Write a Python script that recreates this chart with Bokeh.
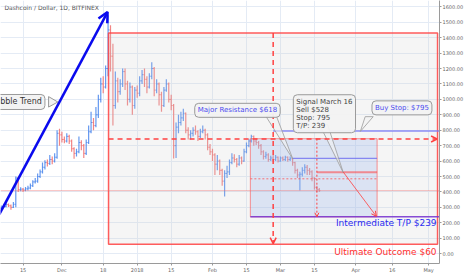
import pandas as pd
from bokeh.plotting import figure
from bokeh.models import (Label, Arrow, OpenHead, FixedTicker, ColumnDataSource,
                          Span, PrintfTickFormatter)
from bokeh.embed import file_html
from bokeh.resources import INLINE

# ---------------- data ----------------
START = "2017-11-05"
END = "2018-03-17"
ORIGIN = "2017-11-15"   # day 0 of the x scale

first_open = 290
close_nov = [295, 300, 305, 318, 310, 300, 320, 490, 415, 418, 412, 420, 425, 440, 465,
             470, 500, 530, 560, 590, 585, 610, 600, 625, 780, 770]
high_nov = [305, 312, 318, 330, 325, 318, 335, 500, 495, 430, 425, 432, 440, 455, 475,
            490, 520, 545, 590, 605, 610, 640, 630, 650, 800, 810]
low_nov = [282, 290, 296, 300, 302, 285, 295, 300, 400, 405, 400, 405, 410, 418, 432,
           455, 460, 490, 520, 545, 565, 575, 580, 590, 615, 700]

close_dec = [740, 730, 760, 730, 680, 650, 660, 720, 700, 650, 720, 790, 850, 830, 900,
             1000, 1100, 1080, 1200, 1450, 1280, 960, 1120, 1050, 1100, 1180, 1100, 1000,
             1080, 960, 1060]
high_dec = [790, 760, 780, 770, 740, 690, 680, 760, 735, 710, 740, 830, 920, 880, 950,
            1030, 1140, 1150, 1220, 1545, 1480, 1360, 1180, 1140, 1130, 1200, 1200, 1120,
            1110, 1090, 1080]
low_dec = [720, 715, 720, 710, 660, 615, 630, 650, 670, 620, 640, 710, 780, 800, 820,
           880, 980, 1040, 1070, 1150, 1180, 830, 940, 980, 1030, 1080, 1060, 960,
           980, 900, 940]

close_jan = [1040, 1120, 1160, 1130, 1080, 1150, 1200, 1060, 1100, 1030, 960, 1060, 1100,
             1000, 960, 700, 820, 850, 880, 910, 800, 770, 780, 800, 790, 760, 790, 800,
             770, 690, 660]
high_jan = [1090, 1150, 1190, 1200, 1150, 1170, 1240, 1210, 1130, 1110, 1050, 1080, 1130,
            1110, 1030, 970, 850, 900, 920, 940, 915, 820, 800, 820, 830, 800, 810, 830,
            810, 780, 710]
low_jan = [1010, 1020, 1100, 1080, 1040, 1070, 1130, 1020, 1040, 960, 920, 950, 1050,
           980, 930, 616, 620, 780, 830, 860, 780, 740, 740, 760, 770, 730, 750, 780,
           740, 670, 640]

close_feb = [640, 580, 600, 540, 470, 520, 530, 590, 620, 610, 580, 620, 600, 660, 700,
             730, 760, 730, 720, 700, 660, 630, 640, 610, 620, 610, 625, 600]
high_feb = [680, 650, 640, 610, 550, 540, 570, 610, 650, 645, 620, 640, 630, 680, 720,
            745, 770, 765, 745, 730, 710, 670, 660, 650, 635, 640, 640, 630]
low_feb = [600, 510, 540, 510, 440, 370, 490, 510, 580, 590, 560, 570, 580, 595, 650,
           690, 720, 700, 705, 680, 640, 610, 615, 595, 600, 595, 600, 590]

close_mar = [620, 610, 625, 610, 615, 590, 540, 510, 515, 540, 560, 540, 530, 490, 430,
             415, 408.4]
high_mar = [630, 630, 635, 630, 630, 620, 595, 550, 530, 560, 580, 575, 555, 540, 495,
            440, 425]
low_mar = [595, 600, 600, 595, 600, 570, 520, 490, 410, 500, 520, 510, 510, 470, 415,
           400, 400]

closes = close_nov + close_dec + close_jan + close_feb + close_mar
highs = high_nov + high_dec + high_jan + high_feb + high_mar
lows = low_nov + low_dec + low_jan + low_feb + low_mar
opens = [first_open] + closes[:-1]

last_price = 408.4
resistance = 618
sell_level = 528
stop_level = 795
tp_level = 239
ultimate_level = 60
box_top_level = 745
mid_level = 485
zone_top_level = 1430

tick_days = [0, 16, 33, 47, 61, 78, 92, 106, 120, 137, 152, 167]
tick_labels = ["15", "Dec", "18", "2018", "15", "Feb", "15", "Mar", "15", "Apr", "16", "May"]
price_ticks = list(range(0, 1700, 100))

# ---------------- figure ----------------
dates = pd.date_range(START, END)
days = [(d - pd.Timestamp(ORIGIN)).days for d in dates]

UP = "#4a86ec"
DOWN = "#f07070"
colors = [UP if c >= o else DOWN for o, c in zip(opens, closes)]
src = ColumnDataSource(dict(x=days, xl=[d - 0.45 for d in days], xr=[d + 0.45 for d in days],
                            o=opens, h=highs, l=lows, c=closes, color=colors))

p = figure(width=466, height=275, x_range=(-9.3, 171.5), y_range=(-64, 1641),
           y_axis_location="right", toolbar_location=None, output_backend="svg",
           min_border_left=0, min_border_top=0, min_border_right=23, min_border_bottom=8)
p.outline_line_color = None

FONT = "DejaVu Sans"
for ax in (p.xaxis[0], p.yaxis[0]):
    ax.axis_line_color = "#9a9a9a"
    ax.major_tick_line_color = "#9a9a9a"
    ax.minor_tick_line_color = None
    ax.major_tick_out = 2
    ax.major_tick_in = 0
    ax.major_label_text_font = FONT
    ax.major_label_text_font_size = "5px"
    ax.major_label_text_color = "#666666"
    ax.major_label_standoff = 1

p.xaxis.ticker = FixedTicker(ticks=tick_days)
p.xaxis.major_label_overrides = {d: t for d, t in zip(tick_days, tick_labels)}
p.yaxis.ticker = FixedTicker(ticks=price_ticks)
p.yaxis.formatter = PrintfTickFormatter(format="%.2f")
p.xgrid.ticker = FixedTicker(ticks=tick_days)
p.ygrid.ticker = FixedTicker(ticks=price_ticks)
p.xgrid.grid_line_color = "#e4ebf5"
p.ygrid.grid_line_color = "#e4ebf5"

# bars
p.segment(x0="x", y0="l", x1="x", y1="h", line_color="color", line_width=1.2, line_alpha=0.85, source=src)
p.segment(x0="xl", y0="o", x1="x", y1="o", line_color="color", line_width=1, line_alpha=0.85, source=src)
p.segment(x0="x", y0="c", x1="xr", y1="c", line_color="color", line_width=1, line_alpha=0.85, source=src)

# last price line
p.add_layout(Span(location=last_price, dimension="width", line_color="#f07070",
                  line_width=1, line_alpha=0.45))

RED = "#ff4040"
# big zone rectangle
p.quad(left=35.2, right=170.7, bottom=ultimate_level, top=zone_top_level,
       fill_color="#cfcfcf", fill_alpha=0.2, line_color=RED, line_width=1.5, line_alpha=0.85)
# blue target box
p.quad(left=93.6, right=145.8, bottom=tp_level, top=box_top_level,
       fill_color="#8fb0ee", fill_alpha=0.25, line_color=RED, line_width=1, line_alpha=0.55)

# lines inside
p.segment(x0=93.6, y0=mid_level, x1=145.8, y1=mid_level, line_color=RED, line_alpha=0.7,
          line_width=1, line_dash="2 2")
p.segment(x0=121, y0=sell_level, x1=145.8, y1=sell_level, line_color=RED, line_alpha=0.55,
          line_width=2)
p.segment(x0=111.1, y0=resistance, x1=145.8, y1=resistance, line_color="#6f6ff0",
          line_alpha=0.8, line_width=1.2)
p.segment(x0=103, y0=stop_level, x1=171.5, y1=stop_level, line_color="#7a7af5",
          line_alpha=0.85, line_width=1.5)
p.segment(x0=93.6, y0=tp_level, x1=171.5, y1=tp_level, line_color="#7a38d0",
          line_alpha=0.9, line_width=1.5)

# arrows
p.add_layout(Arrow(x_start=35.2, y_start=box_top_level - 2, x_end=170.5, y_end=box_top_level - 2,
                   line_color=RED, line_width=1.5, line_dash="5 4",
                   end=OpenHead(size=6, line_color=RED, line_width=1.5)))
p.add_layout(Arrow(x_start=103, y_start=zone_top_level, x_end=103, y_end=ultimate_level + 5,
                   line_color=RED, line_width=1.5, line_dash="5 4",
                   end=OpenHead(size=6, line_color=RED, line_width=1.5)))
p.add_layout(Arrow(x_start=121, y_start=box_top_level, x_end=121, y_end=tp_level,
                   line_color=RED, line_width=1, line_dash="2 2",
                   end=OpenHead(size=4, line_color=RED, line_width=1)))
p.add_layout(Arrow(x_start=131.9, y_start=sell_level, x_end=145.5, y_end=tp_level + 3,
                   line_color=RED, line_width=1, line_alpha=0.8,
                   end=OpenHead(size=5, line_color=RED, line_width=1)))
p.add_layout(Arrow(x_start=-9.8, y_start=255, x_end=34.8, y_end=1566,
                   line_color="#0a0aee", line_width=2.5,
                   end=OpenHead(size=10, line_color="#0a0aee", line_width=2.5)))

# callout pointers
GREY = "#9a9a9a"
p.patch([10.5, 10.5, 14.3], [1018, 950, 983], fill_color="#f2f2f2", line_color=GREY, line_width=1)
p.patch([100.1, 103.8, 111.1], [888, 913, 613], fill_color="#f2f2f2", fill_alpha=0.6,
        line_color=GREY, line_width=0.8)
p.patch([122.1, 125.4, 131.9], [837, 837, 524], fill_color="#f2f2f2", fill_alpha=0.6,
        line_color=GREY, line_width=0.8)
p.patch([140.9, 144.2, 138.9], [888, 888, 792], fill_color="#f2f2f2", fill_alpha=0.6,
        line_color=GREY, line_width=0.8)


def callout(x, y, text, color, size="7px", align="left", baseline="middle"):
    p.add_layout(Label(x=x, y=y, text=text, text_color=color, text_font=FONT,
                       text_font_size=size, text_align=align, text_baseline=baseline,
                       text_line_height=1.0,
                       background_fill_color="#f2f2f2", background_fill_alpha=0.95,
                       border_line_color=GREY, border_line_width=1,
                       padding=3, border_radius=4))


callout(9.0, 983, "Bubble Trend", "#333333", size="8px", align="right")
callout(70.7, 929, "Major Resistance $618", "#4b4bf0")
callout(111.3, 1030, "Signal March 16\nSell $528\nStop: 795\nT/P: 239", "#444444",
        baseline="top")
callout(143.7, 945, "Buy Stop: $795", "#4b4bf0")

# big texts
p.add_layout(Label(x=170.3, y=tp_level - 10, text="Intermediate T/P $239", text_color="#2a2af0",
                   text_font=FONT, text_font_size="9px", text_align="right",
                   text_baseline="top"))
p.add_layout(Label(x=170.3, y=ultimate_level - 14, text="Ultimate Outcome $60", text_color="#ff3030",
                   text_font=FONT, text_font_size="9px", text_align="right",
                   text_baseline="top"))

# title
p.add_layout(Label(x=-7.7, y=1596, text="Dashcoin / Dollar, 1D, BITFINEX", text_color="#555555",
                   text_font=FONT, text_font_size="6px", text_baseline="middle"))

# price tags on the axis
for lvl, col in ((last_price, "#ff1a1a"), (tp_level, "#1a1aff"), (ultimate_level, "#ff1a1a")):
    p.add_layout(Label(x=172.3, y=lvl, text="%.2f" % lvl, text_color="white", text_font=FONT,
                       text_font_size="5px", text_baseline="middle",
                       background_fill_color=col, padding=1))

open("out.html", "w").write(file_html(p, INLINE))
